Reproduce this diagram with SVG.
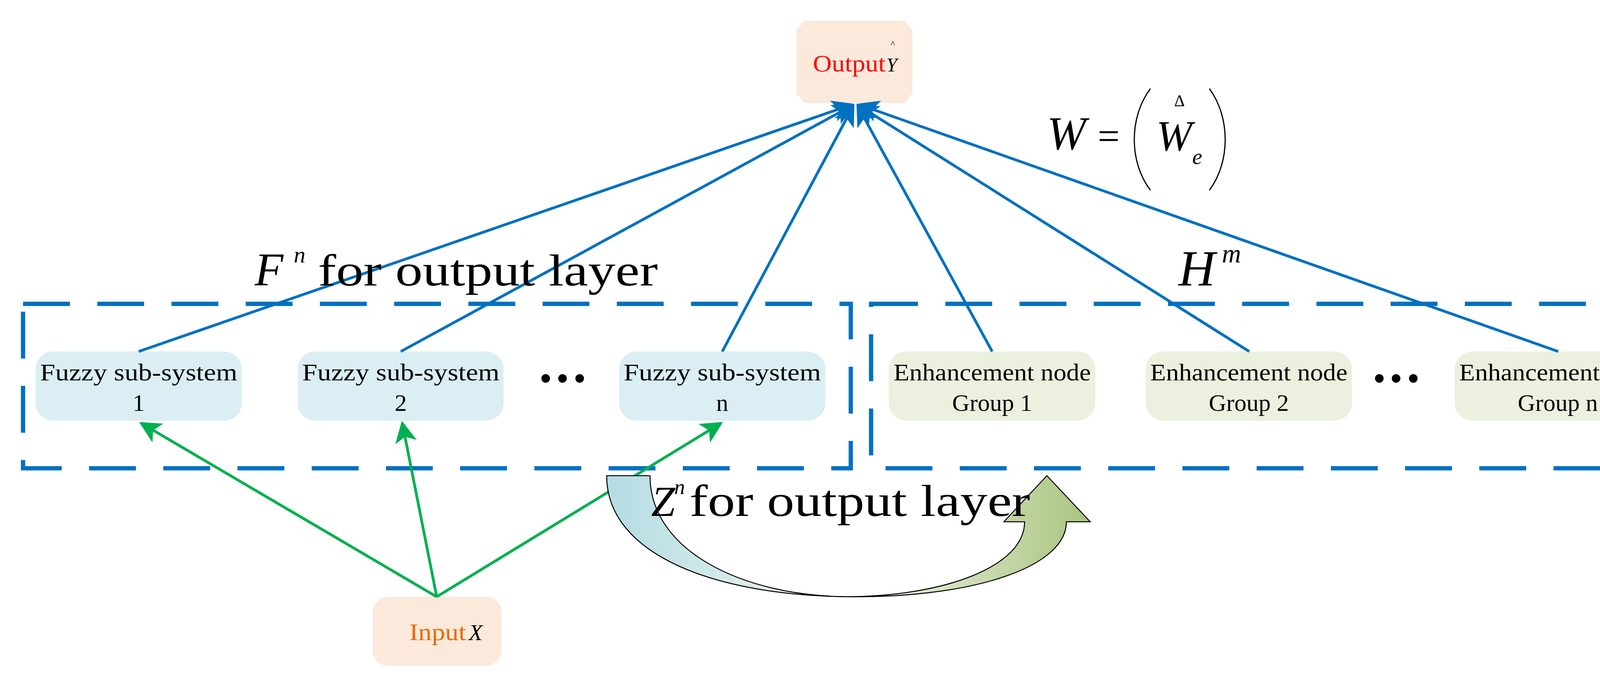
<svg xmlns="http://www.w3.org/2000/svg" width="4347" height="1736" viewBox="0 0 4347 1736">
<style>
.t{font-family:"Liberation Serif",serif;fill:#000}
.m{font-family:"Liberation Serif",serif;font-style:italic;fill:#000}
.dash{fill:none;stroke:#0070C0;stroke-width:11;stroke-dasharray:120 70}
.bl{stroke:#0070C0;stroke-width:7;fill:none}
.gr{stroke:#00B050;stroke-width:7;fill:none}
.fz{fill:#DAEEF3}
.en{fill:#EBF1DE}
.io{fill:#FBE9DB}
.nt{font-family:"Liberation Serif",serif;font-size:62px;text-anchor:middle}
</style>
<defs>
<marker id="ab" markerWidth="8" markerHeight="8" refX="7" refY="4" orient="auto" markerUnits="strokeWidth"><path d="M0,0 L8,4 L0,8 L2,4 Z" fill="#0070C0"/></marker>
<marker id="ag" markerWidth="8" markerHeight="8" refX="7" refY="4" orient="auto" markerUnits="strokeWidth"><path d="M0,0 L8,4 L0,8 L2,4 Z" fill="#00B050"/></marker>
<linearGradient id="cg" x1="0" y1="0" x2="1" y2="0"><stop offset="0" stop-color="#B4DCE4"/><stop offset="0.5" stop-color="#F4F6EE"/><stop offset="1" stop-color="#A9C47F"/></linearGradient>
</defs>
<rect x="59" y="778" width="2119" height="421" class="dash"/>
<rect x="2230" y="778" width="2053" height="421" class="dash"/>
<g id="output"><path d="M2059,53 L2316,53 L2336,78 L2336,239 L2316,264 L2059,264 L2039,239 L2039,78 Z" class="io"/>
<text x="2081" y="183" class="t" font-size="62" style="fill:#FF0000" textLength="186" lengthAdjust="spacingAndGlyphs">Output</text>
<text x="2269" y="183" class="m" font-size="50">Y</text><text x="2280" y="120" class="t" font-size="24">^</text></g>
<g id="input"><rect x="954" y="1528" width="330" height="177" rx="40" class="io"/>
<text x="1048" y="1639" class="t" font-size="62" style="fill:#E46C0A" textLength="145" lengthAdjust="spacingAndGlyphs">Input</text>
<text x="1200" y="1639" class="m" font-size="58">X</text></g>
<g id="fz1"><rect x="91" y="900" width="528" height="177" rx="45" class="fz"/><text x="355" y="974" class="nt" textLength="505" lengthAdjust="spacingAndGlyphs">Fuzzy sub-system</text><text x="355" y="1052" class="nt">1</text></g>
<g id="fz2"><rect x="762" y="900" width="527" height="177" rx="45" class="fz"/><text x="1026" y="974" class="nt" textLength="505" lengthAdjust="spacingAndGlyphs">Fuzzy sub-system</text><text x="1026" y="1052" class="nt">2</text></g>
<g id="fzn"><rect x="1585" y="900" width="528" height="177" rx="45" class="fz"/><text x="1849" y="974" class="nt" textLength="505" lengthAdjust="spacingAndGlyphs">Fuzzy sub-system</text><text x="1849" y="1052" class="nt">n</text></g>
<g id="en1"><rect x="2275" y="900" width="529" height="177" rx="45" class="en"/><text x="2540" y="974" class="nt" textLength="505" lengthAdjust="spacingAndGlyphs">Enhancement node</text><text x="2540" y="1052" class="nt">Group 1</text></g>
<g id="en2"><rect x="2933" y="900" width="528" height="177" rx="45" class="en"/><text x="3197" y="974" class="nt" textLength="505" lengthAdjust="spacingAndGlyphs">Enhancement node</text><text x="3197" y="1052" class="nt">Group 2</text></g>
<g id="enn"><rect x="3724" y="900" width="528" height="177" rx="45" class="en"/><text x="3988" y="974" class="nt" textLength="505" lengthAdjust="spacingAndGlyphs">Enhancement node</text><text x="3988" y="1052" class="nt">Group n</text></g>
<g id="dots"><circle cx="1397" cy="969" r="11"/><circle cx="1440" cy="969" r="11"/><circle cx="1484" cy="969" r="11"/><circle cx="3531" cy="969" r="11"/><circle cx="3574" cy="969" r="11"/><circle cx="3618" cy="969" r="11"/></g>
<g id="connectors">
<line x1="355" y1="900" x2="2180" y2="268" class="bl" marker-end="url(#ab)"/>
<line x1="1026" y1="900" x2="2182" y2="270" class="bl" marker-end="url(#ab)"/>
<line x1="1849" y1="900" x2="2184" y2="272" class="bl" marker-end="url(#ab)"/>
<line x1="2540" y1="900" x2="2196" y2="272" class="bl" marker-end="url(#ab)"/>
<line x1="3198" y1="900" x2="2198" y2="270" class="bl" marker-end="url(#ab)"/>
<line x1="3989" y1="900" x2="2200" y2="268" class="bl" marker-end="url(#ab)"/>
<line x1="1118" y1="1528" x2="362" y2="1084" class="gr" marker-end="url(#ag)"/>
<line x1="1118" y1="1528" x2="1030" y2="1084" class="gr" marker-end="url(#ag)"/>
<line x1="1118" y1="1528" x2="1845" y2="1084" class="gr" marker-end="url(#ag)"/>
</g>
<path id="curve" d="M1553,1218 C1553,1420 1830,1528 2190,1528 C2500,1528 2730,1450 2730,1336 L2791,1336 L2680,1218 L2570,1336 L2623,1336 C2623,1450 2420,1526 2170,1528 C1900,1526 1664,1410 1664,1218 Z" fill="url(#cg)" stroke="#000" stroke-width="2.5"/>
<g id="labels">
<text x="652" y="731" class="m" font-size="120">F</text><text x="752" y="672" class="m" font-size="60">n</text>
<text x="814" y="731" class="t" font-size="115" textLength="870" lengthAdjust="spacingAndGlyphs">for output layer</text>
<text x="1667" y="1321" class="m" font-size="110">Z</text><text x="1726" y="1265" class="m" font-size="55">n</text>
<text x="1765" y="1321" class="t" font-size="115" textLength="872" lengthAdjust="spacingAndGlyphs">for output layer</text>
<text x="3017" y="731" class="m" font-size="130">H</text><text x="3128" y="672" class="m" font-size="68">m</text>
<text x="2680" y="382" class="m" font-size="120">W</text>
<text x="2810" y="382" class="t" font-size="100">=</text>
<path d="M2945,227 C2890,300 2890,415 2945,487" fill="none" stroke="#000" stroke-width="3"/>
<path d="M3096,227 C3150,300 3150,415 3096,487" fill="none" stroke="#000" stroke-width="3"/>
<text x="3006" y="272" class="t" font-size="42">Δ</text>
<text x="2960" y="385" class="m" font-size="110">W</text>
<text x="3052" y="420" class="m" font-size="58">e</text>
</g>
</svg>
